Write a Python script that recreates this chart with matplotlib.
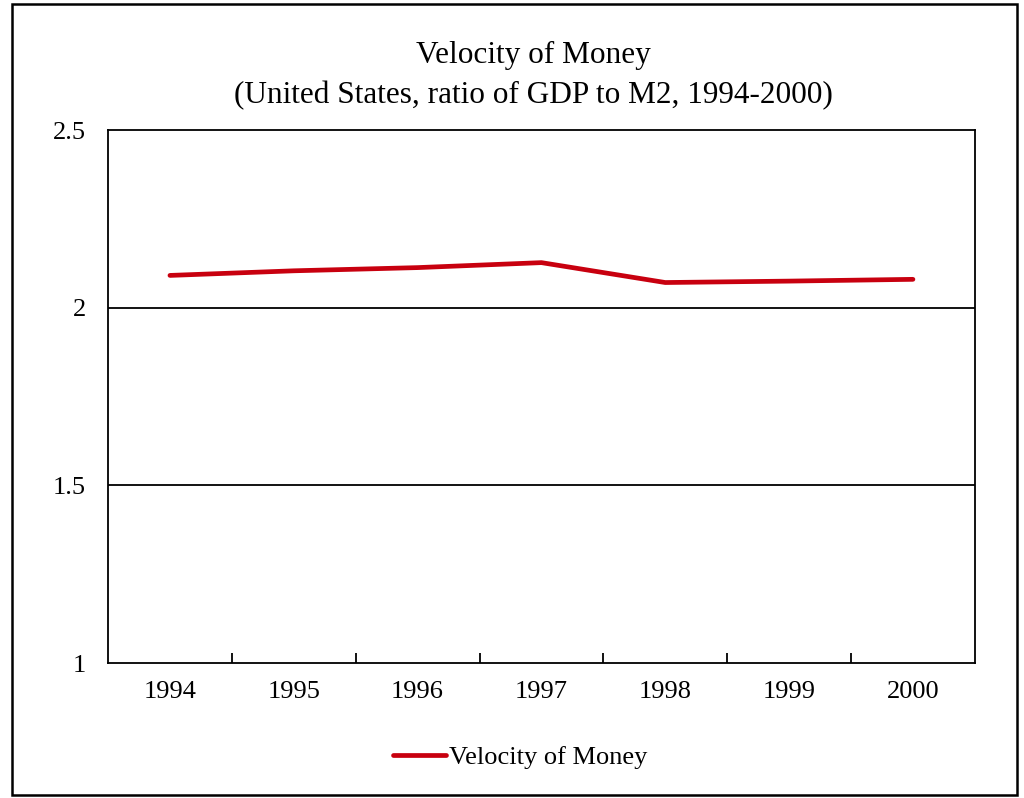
import matplotlib.pyplot as plt
from matplotlib.patches import Rectangle

# -----------------------------------------------------
# Data
# -----------------------------------------------------

years = ["1994", "1995", "1996", "1997", "1998", "1999", "2000"]
velocity = [2.091, 2.104, 2.113, 2.127, 2.071, 2.075, 2.080]
y_ticks = [1, 1.5, 2, 2.5]
y_labels = ["1", "1.5", "2", "2.5"]

plt.rcParams["font.family"] = ["Liberation Serif", "DejaVu Serif"]

fig = plt.figure(figsize=(10.24, 7.98), dpi=100)
ax = fig.add_axes([0.1055, 0.169, 0.8465, 0.668])

# outer chart border
fig.patches.append(
    Rectangle((12 / 1024, 3 / 798), 1005 / 1024, 791 / 798,
              transform=fig.transFigure, fill=False,
              edgecolor="black", linewidth=1.8)
)

x = list(range(len(years)))
ax.plot(x, velocity, color="#C8000F", linewidth=3.4,
        solid_capstyle="round", label="Velocity of Money", zorder=3)

ax.set_xlim(-0.5, len(years) - 0.5)
ax.set_ylim(1, 2.5)

# gridlines
for v in y_ticks[1:-1]:
    ax.axhline(v, color="black", linewidth=1.3, zorder=1)

ax.set_yticks(y_ticks)
ax.set_yticklabels(y_labels, fontsize=19)
ax.tick_params(axis="y", length=0, pad=16)

# tick marks between categories, labels at category centres
ax.set_xticks([i + 0.5 for i in x[:-1]])
ax.set_xticklabels([])
ax.tick_params(axis="x", which="major", direction="in", length=7, width=1.3)
ax.set_xticks(x, minor=True)
ax.set_xticklabels(years, minor=True, fontsize=19)
ax.tick_params(axis="x", which="minor", length=0, pad=13)

for s in ax.spines.values():
    s.set_linewidth(1.3)

fig.text(0.521, 0.930, "Velocity of Money", ha="center", va="center",
         fontsize=22.5)
fig.text(0.521, 0.880, "(United States, ratio of GDP to M2, 1994-2000)",
         ha="center", va="center", fontsize=22.5)

fig.legend(loc="center", bbox_to_anchor=(0.508, 0.051), frameon=False,
           fontsize=19, handlelength=2.0, handletextpad=0.1)

fig.savefig("out.png", dpi=100)
